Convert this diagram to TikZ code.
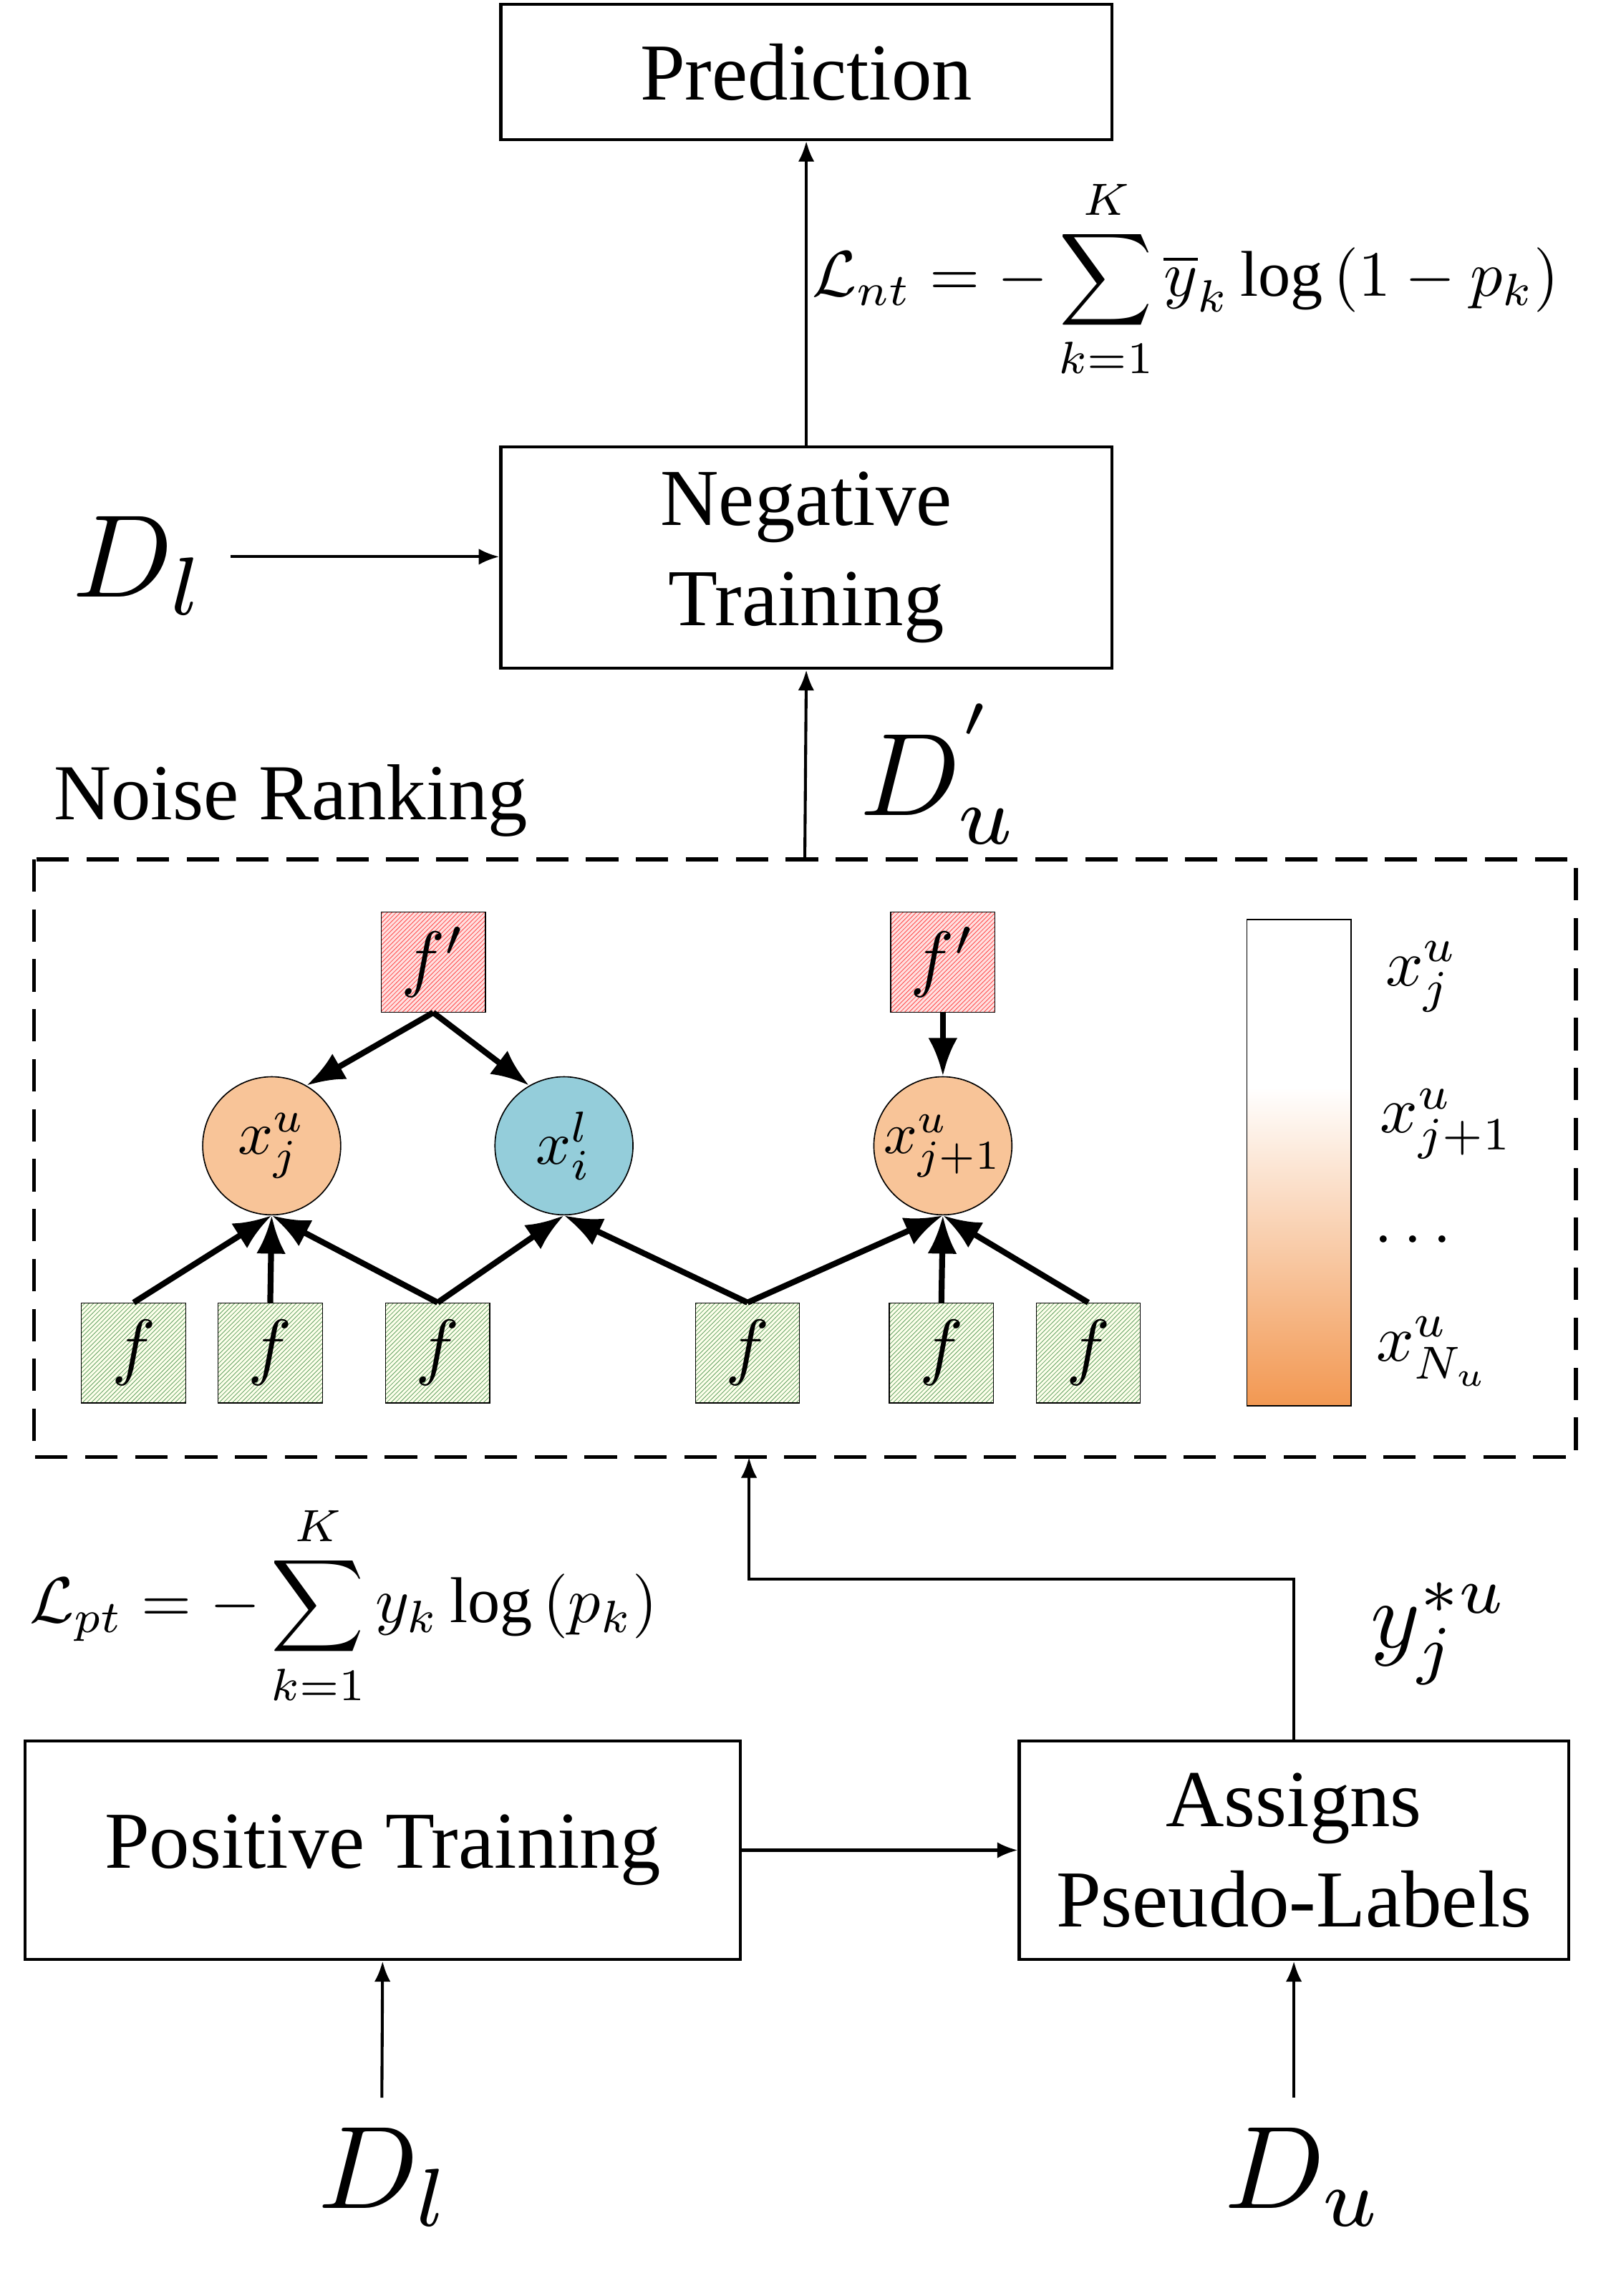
\documentclass[tikz,border=0pt]{standalone}
\usepackage{fontspec}
\setmainfont{Liberation Serif}
\usetikzlibrary{arrows.meta,patterns}
\newcommand{\sm}[2]{\scalebox{#1}{$#2$}}
\definecolor{barorange}{RGB}{242,152,82}
\begin{document}
\begin{tikzpicture}[x=1pt,y=-1pt,
  box/.style={draw,line width=2pt,inner sep=0pt,align=center,font=\fontsize{55}{68}\selectfont},
  thin/.style={line width=2pt,-{Latex[length=14pt,width=11pt]}},
  thick/.style={line width=4pt,-{Latex[length=26pt,width=20pt]}},
  fb/.style={draw,line width=0.6pt,minimum width=71pt,minimum height=68pt,inner sep=0pt,
    preaction={fill=green!10!yellow!8!white},pattern=north east lines,pattern color=green!40!black!60},
  fp/.style={fb,preaction={fill=red!12},pattern color=red!70},
  circ/.style={circle,draw,line width=0.8pt,minimum size=94pt,inner sep=0pt}]
\useasboundingbox (0,0) rectangle (1100,1563);
\node[box,minimum width=416pt,minimum height=92pt] (pred) at (549,49) {Prediction};
\node[box,minimum width=416pt,minimum height=151pt] (nt) at (549,379.5) {Negative\\Training};
\node (dl1) at (95,385) {\sm{8}{D_l}};
\coordinate (dlr) at (157,379);
\draw[thin] (dlr) -- (nt.west|-dlr);
\draw[thin] (nt.north) -- (pred.south);
\node[anchor=west,inner sep=0pt] (lnt) at (553,190) {\sm{4.4}{\displaystyle\mathcal{L}_{nt}=-\sum_{k=1}^{K}\overline{y}_k\log\left(1-p_k\right)}};
\draw[line width=2.5pt,dash pattern=on 22pt off 12pt] (23,585) rectangle (1073,992);
\coordinate (dtop) at (548,585);
\coordinate (dbot) at (510,992);
\draw[thin] (dtop) -- (nt.south);
\node (du1) at (640,527) {\sm{8}{D_u^{'}}};
\node[font=\fontsize{54}{58}\selectfont] (nr) at (198,545) {Noise Ranking};
\node[fp] (fp1) at (295,655) {\sm{5}{f'}};
\node[fp] (fp2) at (642,655) {\sm{5}{f'}};
\node[circ,fill={rgb,255:red,248;green,196;blue,152}] (c1) at (185,780) {\sm{4.2}{x_j^u}};
\node[circ,fill={rgb,255:red,148;green,205;blue,218}] (c2) at (384,780) {\sm{4.2}{x_i^l}};
\node[circ,fill={rgb,255:red,248;green,196;blue,152}] (c3) at (642,780) {\sm{4}{x_{j+1}^u}};
\node[fb] (f1) at (91,921) {\sm{5}{f}};
\node[fb] (f2) at (184,921) {\sm{5}{f}};
\node[fb] (f3) at (298,921) {\sm{5}{f}};
\node[fb] (f4) at (509,921) {\sm{5}{f}};
\node[fb] (f5) at (641,921) {\sm{5}{f}};
\node[fb] (f6) at (741,921) {\sm{5}{f}};
\draw[thick] (fp1.south) -- (c1.60);
\draw[thick] (fp1.south) -- (c2.120);
\draw[thick] (fp2.south) -- (c3.north);
\draw[thick] (f1.north) -- (c1.south);
\draw[thick] (f2.north) -- (c1.south);
\draw[thick] (f3.north) -- (c1.south);
\draw[thick] (f3.north) -- (c2.south);
\draw[thick] (f4.north) -- (c2.south);
\draw[thick] (f4.north) -- (c3.south);
\draw[thick] (f5.north) -- (c3.south);
\draw[thick] (f6.north) -- (c3.south);
\shade[top color=white,bottom color=barorange] (849,740) rectangle (920,957);
\node[draw,line width=0.8pt,minimum width=71pt,minimum height=331pt,inner sep=0pt] (bar) at (884.5,791.5) {};
\node (l1) at (968,665) {\sm{4.5}{x_j^u}};
\node (l2) at (985,765) {\sm{4.5}{x_{j+1}^u}};
\node (l3) at (962,845) {\sm{4.5}{\cdots}};
\node (l4) at (976,920) {\sm{4.5}{x_{N_u}^u}};
\node[box,minimum width=487pt,minimum height=149pt] (pt) at (260.5,1259.5) {Positive Training};
\node[box,minimum width=374pt,minimum height=149pt] (ap) at (881,1259.5) {Assigns\\Pseudo-Labels};
\draw[thin] (pt.east) -- (ap.west);
\coordinate (c5) at (881,1075);
\draw[line width=2pt,-{Latex[length=14pt,width=11pt]}] (ap.north) -- (c5) -| (dbot);
\node[anchor=west,inner sep=0pt] (lpt) at (20,1093) {\sm{4.4}{\displaystyle\mathcal{L}_{pt}=-\sum_{k=1}^{K}y_k\log\left(p_k\right)}};
\node (ys) at (980,1112) {\sm{6.4}{y_j^{*u}}};
\node (dl2) at (262,1482) {\sm{8}{D_l}};
\node (du2) at (888,1482) {\sm{8}{D_u}};
\coordinate (b1) at (260,1428);
\coordinate (b2) at (881,1428);
\draw[thin] (b1) -- (pt.south);
\draw[thin] (b2) -- (ap.south);
\end{tikzpicture}
\end{document}
